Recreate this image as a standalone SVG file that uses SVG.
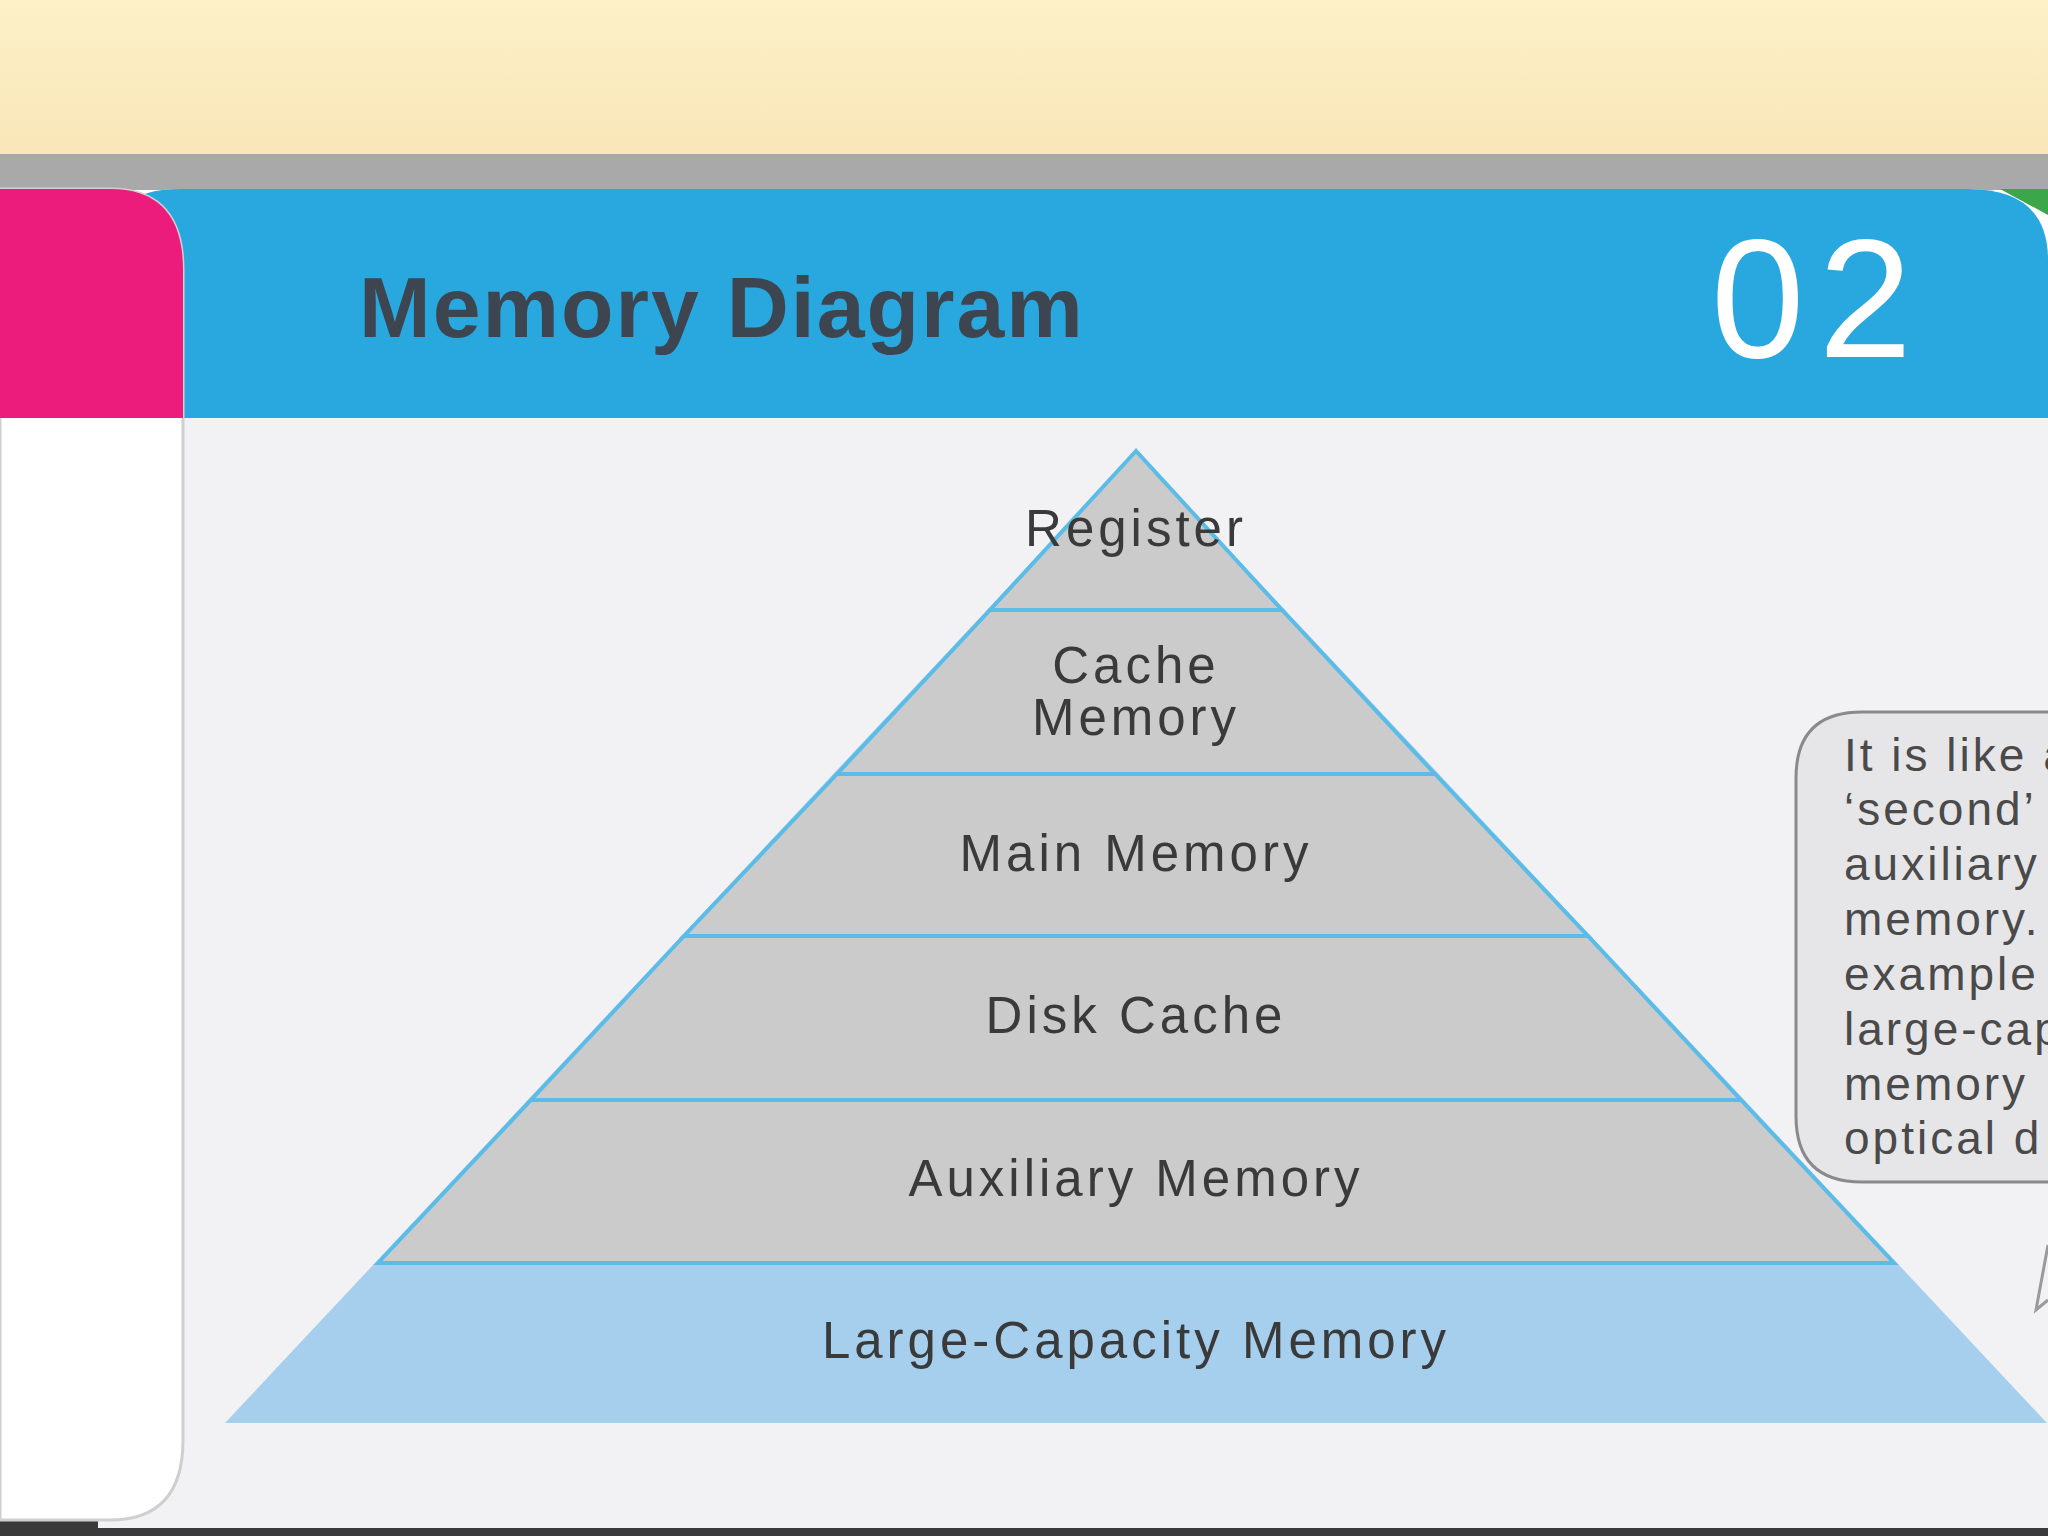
<svg xmlns="http://www.w3.org/2000/svg" width="2048" height="1536" viewBox="0 0 2048 1536">
<style>
.lbl{font-family:"Liberation Sans",Arial,sans-serif;font-size:51px;fill:#3a3a3a;text-anchor:middle;letter-spacing:4px}
.call{font-family:"Liberation Sans",Arial,sans-serif;font-size:46px;fill:#4a4a4a;letter-spacing:3px}
.layer{fill:#cbcbcb;stroke:#5cbce8;stroke-width:4}
</style>
<defs>
<linearGradient id="gy" x1="0" y1="0" x2="0" y2="1">
<stop offset="0" stop-color="#fdf1c8"/><stop offset="1" stop-color="#f8e6b8"/>
</linearGradient>
</defs>
<rect x="0" y="0" width="2048" height="154" fill="url(#gy)"/>
<rect x="0" y="154" width="2048" height="36" fill="#a9a9a9"/>
<rect x="0" y="1515" width="2048" height="21" fill="#3a3a3a"/>
<g id="panel">
<path d="M98,1528 L98,270 Q98,189 180,189 L1968,189 Q2048,189 2048,260 L2048,1528 Z" fill="#f2f2f4"/>
<path d="M98,418 L98,270 Q98,189 180,189 L1968,189 Q2048,189 2048,260 L2048,418 Z" fill="#29a8e0"/>
<path d="M2000,189 L2048,189 L2048,215 Z" fill="#3aa84a"/>
</g>
<g id="leftpanel">
<path d="M0,189 L110,189 Q183,189 183,270 L183,1440 Q183,1520 110,1520 L0,1520 Z" fill="#ffffff" stroke="#cfcfcf" stroke-width="3"/>
<path d="M0,189 L110,189 Q183,189 183,270 L183,418 L0,418 Z" fill="#ec1c7d"/>
</g>
<g id="title">
<text x="359" y="337" font-family="'Liberation Sans',Arial,sans-serif" font-weight="bold" font-size="86" letter-spacing="2" fill="#3d4650">Memory Diagram</text>
<text x="1711" y="357" font-family="'Liberation Sans',Arial,sans-serif" font-size="168" letter-spacing="14" fill="#ffffff">02</text>
</g>
<g id="pyramid">
<polygon points="1136,451 225,1423 2047,1423" fill="#a6cfee"/>
<polygon class="layer" points="1136,451 990,610 1282,610"/>
<polygon class="layer" points="990,610 837,774 1435,774 1282,610"/>
<polygon class="layer" points="837,774 684,936 1588,936 1435,774"/>
<polygon class="layer" points="684,936 531,1100 1741,1100 1588,936"/>
<polygon class="layer" points="531,1100 378,1263 1894,1263 1741,1100"/>
</g>
<g id="labels">
<text class="lbl" x="1136" y="546">Register</text>
<text class="lbl" x="1136" y="683">Cache</text>
<text class="lbl" x="1136" y="735">Memory</text>
<text class="lbl" x="1136" y="871">Main Memory</text>
<text class="lbl" x="1136" y="1033">Disk Cache</text>
<text class="lbl" x="1136" y="1196">Auxiliary Memory</text>
<text class="lbl" x="1136" y="1358">Large-Capacity Memory</text>
</g>
<g id="callout">
<path d="M2060,712 L1862,712 Q1796,712 1796,778 L1796,1116 Q1796,1182 1862,1182 L2060,1182" fill="#e6e6e8" stroke="#8a8a8a" stroke-width="3"/>
<path d="M2048,1245 L2036,1310 L2048,1300" fill="none" stroke="#9a9a9a" stroke-width="3"/>
<text class="call" x="1844" y="771">It is like a</text>
<text class="call" x="1844" y="825">‘second’</text>
<text class="call" x="1844" y="880">auxiliary</text>
<text class="call" x="1844" y="935">memory.</text>
<text class="call" x="1844" y="990">example</text>
<text class="call" x="1844" y="1045">large-cap</text>
<text class="call" x="1844" y="1100">memory</text>
<text class="call" x="1844" y="1154">optical d</text>
</g>
</svg>
